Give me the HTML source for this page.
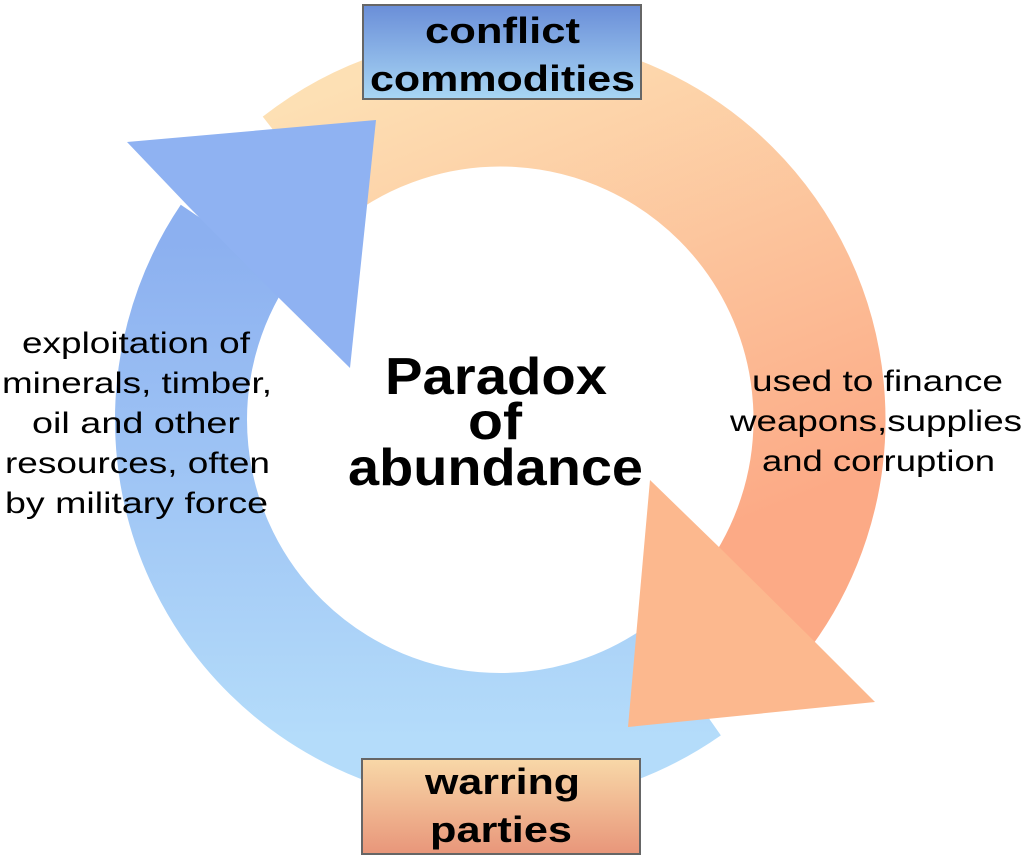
<!DOCTYPE html>
<html><head><meta charset="utf-8"><style>
html,body{margin:0;padding:0;background:#fff;width:1024px;height:860px;overflow:hidden}
svg{display:block}
text{font-family:"Liberation Sans",Arial,sans-serif}
</style></head><body>
<svg width="1024" height="860" viewBox="0 0 1024 860">
<defs>
<linearGradient id="bl" x1="0" y1="1" x2="0" y2="0">
<stop offset="0" stop-color="#b4dcfa"/><stop offset="1" stop-color="#8cb0f0"/></linearGradient>
<linearGradient id="or" x1="0" y1="0" x2="0.4" y2="1">
<stop offset="0" stop-color="#fde0b4"/><stop offset="1" stop-color="#fcaa86"/></linearGradient>
<linearGradient id="tb" x1="0" y1="0" x2="0" y2="1">
<stop offset="0" stop-color="#6a8ed8"/><stop offset="1" stop-color="#a8d6f4"/></linearGradient>
<linearGradient id="bb" x1="0" y1="0" x2="0" y2="1">
<stop offset="0" stop-color="#f8d8a8"/><stop offset="1" stop-color="#e8967a"/></linearGradient>
</defs>
<path d="M683 681.3 A319 319 0 0 1 235.5 241.7" fill="none" stroke="url(#bl)" stroke-width="132"/>
<path d="M303.5 168.6 A319 319 0 0 1 751.4 616.5" fill="none" stroke="url(#or)" stroke-width="132"/>
<polygon points="650,480 720,548 815,642 875,702 628,727" fill="#fcb88e"/>
<polygon points="127,142 188,206 281,300 350,368 376,120" fill="#8fb2f2"/>
<rect x="363" y="5" width="278" height="94" fill="url(#tb)" stroke="#666" stroke-width="2"/>
<g font-size="36" font-weight="bold">
<text x="425" y="43" textLength="155" lengthAdjust="spacingAndGlyphs">conflict</text>
<text x="370" y="91" textLength="265" lengthAdjust="spacingAndGlyphs">commodities</text>
</g>
<rect x="362" y="759" width="278" height="95" fill="url(#bb)" stroke="#666" stroke-width="2"/>
<g font-size="36" font-weight="bold">
<text x="425" y="794" textLength="155" lengthAdjust="spacingAndGlyphs">warring</text>
<text x="430" y="842" textLength="142" lengthAdjust="spacingAndGlyphs">parties</text>
</g>
<g font-size="52" font-weight="bold">
<text x="385" y="394" textLength="222" lengthAdjust="spacingAndGlyphs">Paradox</text>
<text x="468" y="439" textLength="54" lengthAdjust="spacingAndGlyphs">of</text>
<text x="348" y="485" textLength="295" lengthAdjust="spacingAndGlyphs">abundance</text>
</g>
<g font-size="30">
<text x="22" y="353" textLength="228" lengthAdjust="spacingAndGlyphs">exploitation of</text>
<text x="2" y="393" textLength="270" lengthAdjust="spacingAndGlyphs">minerals, timber,</text>
<text x="32" y="433" textLength="208" lengthAdjust="spacingAndGlyphs">oil and other</text>
<text x="5" y="473" textLength="265" lengthAdjust="spacingAndGlyphs">resources, often</text>
<text x="5" y="513" textLength="263" lengthAdjust="spacingAndGlyphs">by military force</text>
<text x="752" y="391" textLength="251" lengthAdjust="spacingAndGlyphs">used to finance</text>
<text x="730" y="431" textLength="292" lengthAdjust="spacingAndGlyphs">weapons,supplies</text>
<text x="762" y="471" textLength="233" lengthAdjust="spacingAndGlyphs">and corruption</text>
</g>
</svg>
</body></html>
